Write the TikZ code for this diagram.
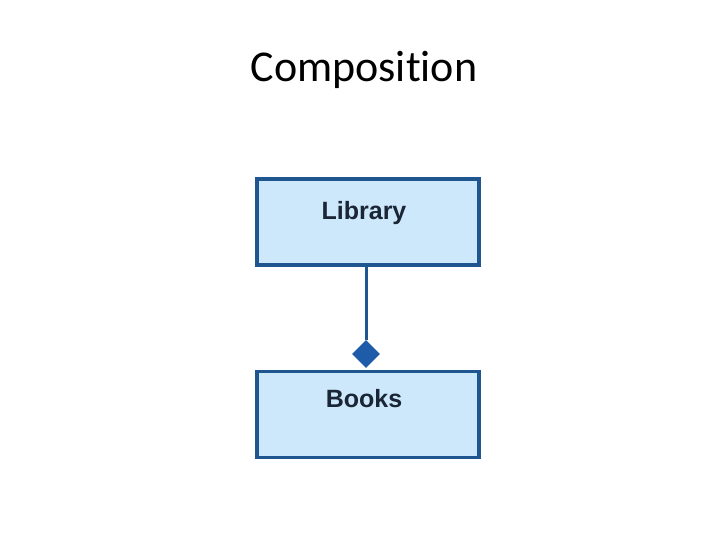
\documentclass[tikz,border=0pt]{standalone}
\usepackage{fontspec}
\setmainfont[Ligatures=NoCommon]{Carlito}
\newfontfamily\boxfont{Liberation Sans}
\usetikzlibrary{shapes.geometric}
\definecolor{boxfill}{HTML}{CDE8FB}
\definecolor{boxdraw}{HTML}{1F568F}
\definecolor{diafill}{HTML}{1E5CAA}
\definecolor{txt}{HTML}{1A2535}
\tikzset{
  classbox/.style={draw=boxdraw, fill=boxfill, line width=3.2pt, minimum width=222pt, minimum height=86pt, inner sep=0pt},
  classlabel/.style={font=\boxfont\bfseries\fontsize{25}{28}\selectfont, text=txt, inner sep=0pt},
  link/.style={draw=boxdraw, line width=3pt},
  compdia/.style={diamond, fill=diafill, draw=none, minimum width=28pt, minimum height=28pt, inner sep=0pt}
}
\begin{document}
\begin{tikzpicture}[x=1pt,y=-1pt]
\useasboundingbox[fill=white] (0,0) rectangle (728,546);
\node[font=\fontsize{44}{48}\selectfont, anchor=base] (title) at (364,81) {Composition};
\node[classbox] (lib) at (368,222) {};
\node[classlabel, anchor=base] (libt) at (364,219) {Library};
\node[classbox] (books) at (368,414.5) {};
\node[classlabel, anchor=base] (bookt) at (364,407) {Books};
\node[compdia] (dia) at (366,354) {};
\draw[link] (lib.south -| dia.north) -- (dia.north);
\end{tikzpicture}
\end{document}
